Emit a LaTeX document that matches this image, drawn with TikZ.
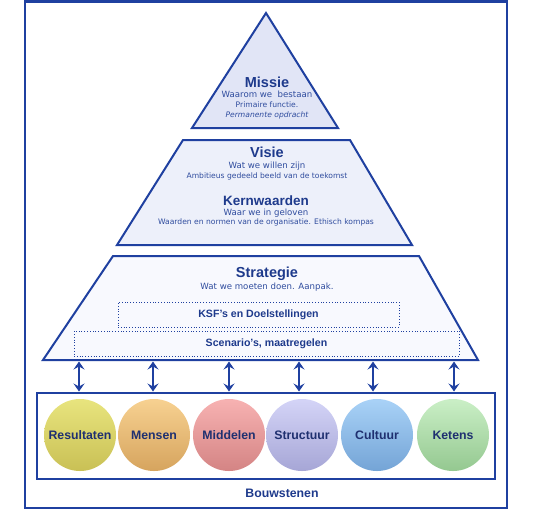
\documentclass[tikz,border=0pt]{standalone}
\usepackage{fontspec}
\setmainfont{Liberation Sans}
\newfontfamily\dv{DejaVu Sans}
\usetikzlibrary{arrows.meta}
\definecolor{frame}{HTML}{1F40A0}
\definecolor{ttl}{HTML}{1E3A8C}
\definecolor{sub}{HTML}{2F4C9E}
\definecolor{fillA}{HTML}{E1E5F6}
\definecolor{fillB}{HTML}{EDF0FA}
\definecolor{fillC}{HTML}{F8F9FE}
\definecolor{ballname}{HTML}{1F3070}
\definecolor{yA}{HTML}{E8E47E}\definecolor{yB}{HTML}{C9C055}
\definecolor{oA}{HTML}{F7D191}\definecolor{oB}{HTML}{D6A45E}
\definecolor{rA}{HTML}{F7B2B2}\definecolor{rB}{HTML}{D48484}
\definecolor{pA}{HTML}{D4D4F7}\definecolor{pB}{HTML}{A6A6D6}
\definecolor{cA}{HTML}{A9D2F7}\definecolor{cB}{HTML}{74A4D6}
\definecolor{gA}{HTML}{CAEFC6}\definecolor{gB}{HTML}{94C890}
\tikzset{
  lvl/.style={draw=frame, line width=2pt, line join=miter},
  title/.style={anchor=base, text=ttl, font=\fontsize{14.5}{15}\selectfont\bfseries, inner sep=0pt},
  subA/.style={anchor=base, text=sub, font=\dv\fontsize{8.6}{10}\selectfont, inner sep=0pt},
  subB/.style={anchor=base, text=sub, font=\dv\fontsize{7.6}{9}\selectfont, inner sep=0pt},
  dotbox/.style={draw=frame, dotted, line width=0.8pt, text=ttl, font=\fontsize{10.6}{12}\selectfont\bfseries, inner sep=0pt},
  ball/.style={circle, minimum size=72pt, inner sep=0pt, text height=8.8pt, text depth=0pt, shading=axis, shading angle=135, text=ballname, font=\fontsize{12.3}{14}\selectfont\bfseries},
  dbl/.style={draw=frame, line width=2.4pt, {Stealth[length=8pt,width=11pt,inset=3pt]}-{Stealth[length=8pt,width=11pt,inset=3pt]}},
}
\begin{document}
\begin{tikzpicture}[x=1pt,y=-1pt]
\useasboundingbox (0,0) rectangle (534,515);
% outer frame
\draw[draw=frame, line width=2.2pt] (25,1.5) rectangle (507,508);
% Missie
\draw[lvl, fill=fillA] (266,13) -- (338,128) -- (192,128) -- cycle;
\node[title] (missie) at (267,87) {Missie};
\node[subA] (m1) at (267,97.5) {Waarom we\ \ bestaan};
\node[subB] (m2) at (267,107.5) {Primaire functie.};
\node[subB] (m3) at (267,117.5) {\itshape Permanente opdracht};
% Visie / Kernwaarden
\draw[lvl, fill=fillB] (183,140) -- (350,140) -- (412,245) -- (117,245) -- cycle;
\node[title] (visie) at (267,157) {Visie};
\node[subA] (v1) at (267,168.5) {Wat we willen zijn};
\node[subB] (v2) at (267,178) {Ambitieus gedeeld beeld van de toekomst};
\node[title, font=\fontsize{13.5}{15}\selectfont\bfseries] (kern) at (266,205) {Kernwaarden};
\node[subA] (k1) at (266,215.5) {Waar we in geloven};
\node[subB] (k2) at (266,224.5) {Waarden en normen van de organisatie. Ethisch kompas};
% Strategie
\draw[lvl, fill=fillC] (113,256) -- (419,256) -- (478,360) -- (43,360) -- cycle;
\node[title] (strat) at (267,277) {Strategie};
\node[subA] (s1) at (267,289.5) {Wat we moeten doen. Aanpak.};
\node[dotbox, minimum width=281pt, minimum height=25pt] (ksf) at (258.5,314.5) {KSF's en Doelstellingen};
\node[dotbox, minimum width=385pt, minimum height=25pt] (scen) at (266.5,343.5) {Scenario's, maatregelen};
% Bouwstenen box
\draw[draw=frame, line width=2.2pt] (37,393) rectangle (495,479);
\node[anchor=base, text=ttl, font=\fontsize{12.3}{14}\selectfont\bfseries, inner sep=0pt] (bouw) at (282,497.5) {Bouwstenen};
% balls
\node[ball, top color=yA, bottom color=yB] (b1) at (80,435) {Resultaten};
\node[ball, top color=oA, bottom color=oB] (b2) at (154,435) {Mensen};
\node[ball, top color=rA, bottom color=rB] (b3) at (229,435) {Middelen};
\node[ball, top color=pA, bottom color=pB] (b4) at (302,435) {Structuur};
\node[ball, top color=cA, bottom color=cB] (b5) at (377,435) {Cultuur};
\node[ball, top color=gA, bottom color=gB] (b6) at (453,435) {Ketens};
% arrows
\foreach \i/\x in {1/79,2/153,3/229,4/299,5/373,6/454}{
  \coordinate (t\i) at (\x,361.5);
  \coordinate (u\i) at (\x,391.5);
  \draw[dbl] (t\i) -- (u\i);
}
\end{tikzpicture}
\end{document}
